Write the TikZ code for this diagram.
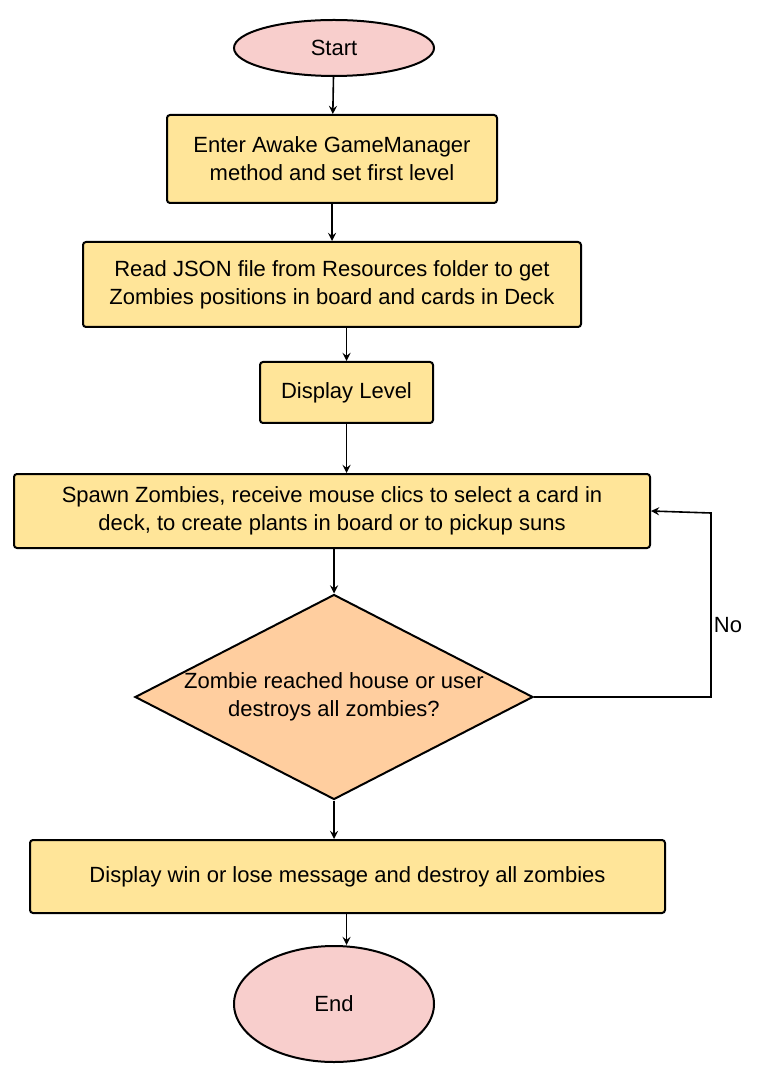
\documentclass[tikz,border=0pt]{standalone}
\usepackage{fontspec}
\setmainfont{Liberation Sans}
\usetikzlibrary{shapes.geometric}
\definecolor{stepfill}{HTML}{FFE599}
\definecolor{termfill}{HTML}{F8CECC}
\definecolor{askfill}{HTML}{FFCE9F}
\begin{document}
\begin{tikzpicture}[>=stealth,x=0.5pt,y=-0.5pt,
  procbox/.style={draw=black,fill=stepfill,line width=1pt,rounded corners=1.5pt,align=center,inner sep=2pt},
  term/.style={draw=black,fill=termfill,line width=1pt,ellipse,inner sep=0pt},
  ask/.style={draw=black,fill=askfill,line width=1pt,diamond,aspect=1.94,inner sep=0pt,align=center},
  font=\fontsize{11}{14}\selectfont]

\useasboundingbox (0,0) rectangle (762,1068);

\node [term,minimum width=100pt,minimum height=28pt] at (334,48) (start) {Start};
\node [procbox,minimum width=165pt,minimum height=44pt] at (332,159) (b1) {Enter Awake GameManager\\method and set first level};
\node [procbox,minimum width=249pt,minimum height=42.5pt] at (332,284.5) (b2) {Read JSON file from Resources folder to get\\Zombies positions in board and cards in Deck};
\node [procbox,minimum width=86.5pt,minimum height=30.5pt] at (346.5,392.5) (b3) {Display Level};
\node [procbox,minimum width=318pt,minimum height=37pt] at (332,511) (b4) {Spawn Zombies, receive mouse clics to select a card in\\deck, to create plants in board or to pickup suns};
\node [ask,minimum width=199pt,minimum height=102.5pt] at (334,697) (q) {Zombie reached house or user\\destroys all zombies?};
\node [procbox,minimum width=317.5pt,minimum height=36.5pt] at (347.5,876.5) (b5) {Display win or lose message and destroy all zombies};
\node [term,minimum width=100pt,minimum height=58pt] at (334,1004) (end) {End};
\node at (728,625) (no) {No};

\draw [->,thick] (start) -- (b1);
\draw [->,thick] (b1) -- (b2);
\draw [->,thick] (b2.south -| b3) -- (b3);
\draw [->,thick] (b3.south) -- (b3.south |- b4.north);
\draw [->,thick] (b4.south -| q.north) -- (q.north);
\draw [->,thick] (q.south) -- (q.south |- b5.north);
\draw [->,thick] (b5.south -| b3) -- (end.north -| b3);
\draw [->,thick] (q.east) -| (711,513) -- (b4.east);

\end{tikzpicture}
\end{document}
